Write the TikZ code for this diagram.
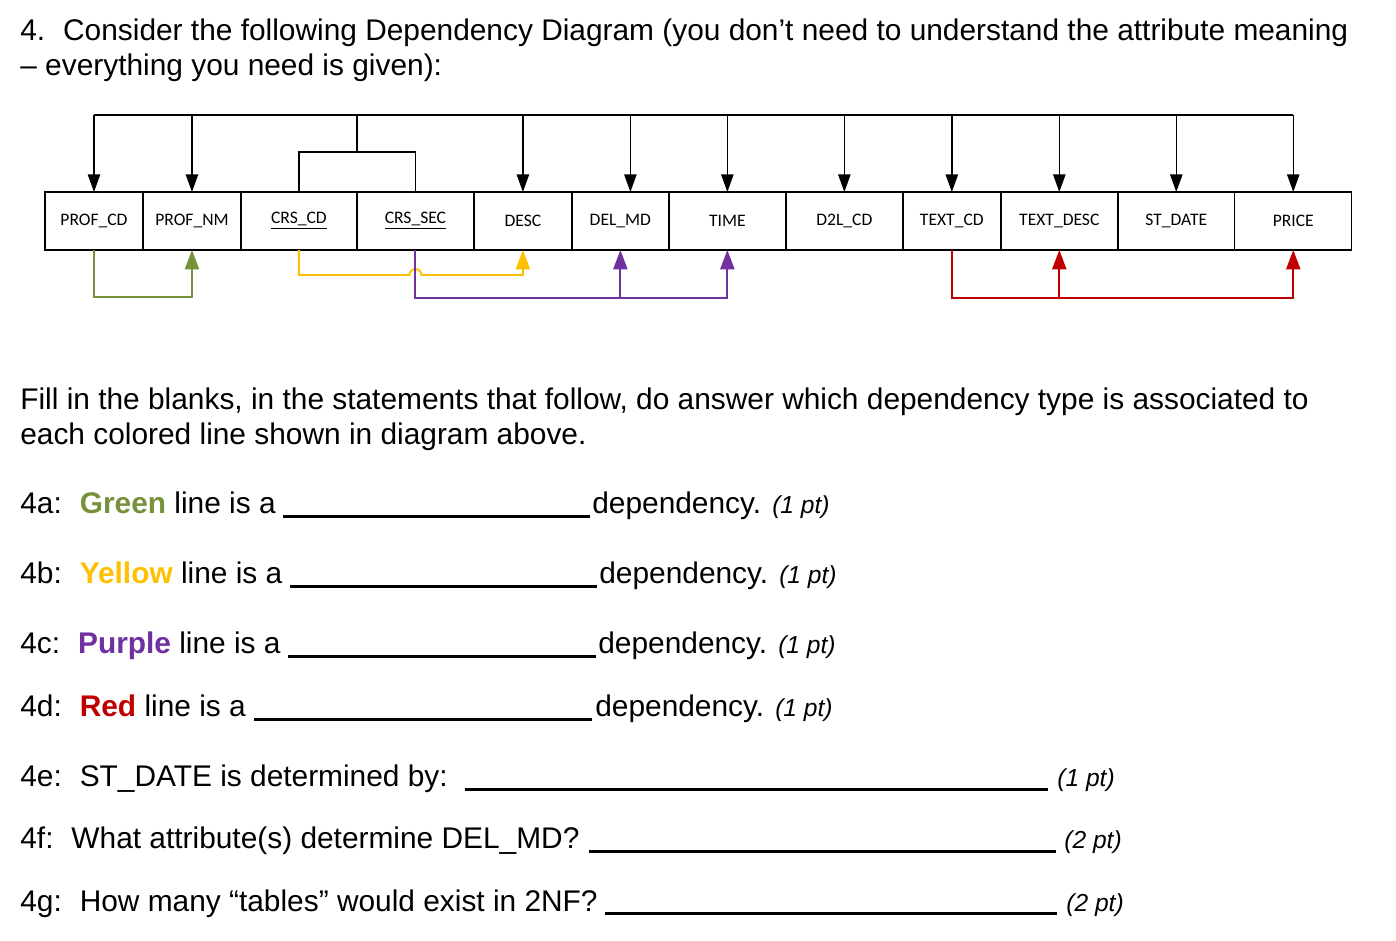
\documentclass[tikz,border=0pt]{standalone}
\usepackage{fontspec}
\setmainfont{Liberation Sans}
\newfontfamily\attrfont{Carlito}
\usepackage{xcolor}
\usetikzlibrary{arrows.meta, positioning, calc}

\definecolor{depgreen}{HTML}{76923C}
\definecolor{depyellow}{HTML}{FFC000}
\definecolor{deppurple}{HTML}{7030A0}
\definecolor{depred}{HTML}{C00000}

\newcommand{\pts}[1]{{\itshape\fontsize{14}{16}\selectfont (#1)}}

\begin{document}
\begin{tikzpicture}[x=0.02cm,y=-0.02cm,
    attr/.style={rectangle, draw, line width=0.8pt, minimum height=1.16cm, inner sep=0pt, outer sep=0pt, font=\attrfont\fontsize{10}{12}\selectfont},
    narrow/.style={attr, minimum width=1.96cm},
    wide/.style={attr, minimum width=2.34cm},
    bus/.style={line width=0.8pt},
    det/.style={bus, -{Triangle[width=7pt,length=10pt]}},
    dep/.style={line width=1.1pt, -{Triangle[width=8pt,length=11pt]}},
    txt/.style={anchor=base west, inner sep=0pt, font=\fontsize{17}{20}\selectfont},
    blank/.style={line width=1.7pt}]
    \useasboundingbox (0,0) rectangle (1396,940);

    % heading
    \node[txt] (head1) at (20,40) {4.\hspace{0.6em}Consider the following Dependency Diagram (you don’t need to understand the attribute meaning};
    \node[txt] (head2) at (20,75) {– everything you need is given):};

    % attributes
    \node[narrow, anchor=north west] (profcd) at (45,192) {PROF\_CD};
    \node[narrow, right=0pt of profcd] (profnm) {PROF\_NM};
    \node[wide, minimum width=2.32cm, right=0pt of profnm] (crscd) {\underline{CRS\_CD}};
    \node[wide, right=0pt of crscd] (crssec) {\underline{CRS\_SEC}};
    \node[narrow, right=0pt of crssec] (desc) {DESC};
    \node[narrow, minimum width=1.94cm, right=0pt of desc] (delmd) {DEL\_MD};
    \node[wide, right=0pt of delmd] (time) {TIME};
    \node[wide, right=0pt of time] (dlcd) {D2L\_CD};
    \node[narrow, right=0pt of dlcd] (textcd) {TEXT\_CD};
    \node[wide, right=0pt of textcd] (textdesc) {TEXT\_DESC};
    \node[wide, right=0pt of textdesc] (stdate) {ST\_DATE};
    \node[wide, right=0pt of stdate] (price) {PRICE};

    % full dependencies from the key
    \coordinate (bus) at (0,115);
    \coordinate (keyjoin) at ($(crscd.north)!0.5!(crssec.north)+(0,-40)$);
    \coordinate (delmdin) at ([xshift=0.2cm]delmd.north);
    \draw[bus] (profcd.north |- bus) -- (price.north |- bus);
    \draw[bus] (crscd.north) |- (keyjoin) -| (crssec.north);
    \draw[bus] (keyjoin) -- (keyjoin |- bus);
    \foreach \n in {profcd, profnm, desc, time, dlcd, textcd, textdesc, stdate, price}
        \draw[det] (\n.north |- bus) -- (\n.north);
    \draw[det] (delmdin |- bus) -- (delmdin);

    % partial and transitive dependencies
    \draw[dep, depgreen] (profcd.south) -- ++(0,47) -| (profnm.south);
    \draw[dep, depyellow] (crscd.south) -- ++(0,25) -- ($(crssec.south)+(-6,25)$)
        arc[start angle=180, end angle=0, radius=0.12cm] -| (desc.south);
    \coordinate (plow) at ($(crssec.south)+(0,48)$);
    \draw[dep, deppurple] (crssec.south) -- (plow) -| (time.south);
    \draw[dep, deppurple] (delmd.south |- plow) -- (delmd.south);
    \coordinate (rlow) at ($(textcd.south)+(0,48)$);
    \draw[dep, depred] (textcd.south) -- (rlow) -| (price.south);
    \draw[dep, depred] (textdesc.south |- rlow) -- (textdesc.south);

    % questions
    \node[txt] (intro1) at (20,409) {Fill in the blanks, in the statements that follow, do answer which dependency type is associated to};
    \node[txt] (intro2) at (20,444) {each colored line shown in diagram above.};

    \node[txt] (q4a) at (20,513) {4a:\hspace{0.6em}\textbf{\color{depgreen}Green} line is a};
    \draw[blank] (283,516) -- (590,516);
    \node[txt] (d4a) at (592,513) {dependency. \pts{1 pt}};

    \node[txt] (q4b) at (20,583) {4b:\hspace{0.6em}\textbf{\color{depyellow}Yellow} line is a};
    \draw[blank] (290,586) -- (597,586);
    \node[txt] (d4b) at (599,583) {dependency. \pts{1 pt}};

    \node[txt] (q4c) at (20,653) {4c:\hspace{0.6em}\textbf{\color{deppurple}Purple} line is a};
    \draw[blank] (288,656) -- (596,656);
    \node[txt] (d4c) at (598,653) {dependency. \pts{1 pt}};

    \node[txt] (q4d) at (20,716) {4d:\hspace{0.6em}\textbf{\color{depred}Red} line is a};
    \draw[blank] (254,719) -- (592,719);
    \node[txt] (d4d) at (595,716) {dependency. \pts{1 pt}};

    \node[txt] (q4e) at (20,786) {4e:\hspace{0.6em}ST\_DATE is determined by:};
    \draw[blank] (465,789) -- (1048,789);
    \node[txt] (p4e) at (1057,786) {\pts{1 pt}};

    \node[txt] (q4f) at (20,848) {4f:\hspace{0.6em}What attribute(s) determine DEL\_MD?};
    \draw[blank] (589,851) -- (1056,851);
    \node[txt] (p4f) at (1064,848) {\pts{2 pt}};

    \node[txt] (q4g) at (20,911) {4g:\hspace{0.6em}How many “tables” would exist in 2NF?};
    \draw[blank] (605,913) -- (1057,913);
    \node[txt] (p4g) at (1066,911) {\pts{2 pt}};
\end{tikzpicture}
\end{document}
